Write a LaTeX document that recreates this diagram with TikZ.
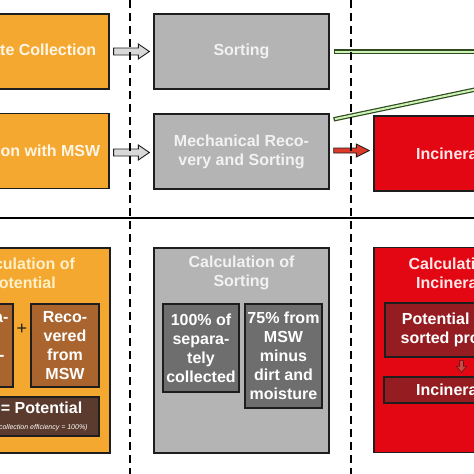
\documentclass[tikz,border=0pt]{standalone}
\usepackage{fontspec}
\setmainfont{Liberation Sans}
\usetikzlibrary{calc}
\definecolor{orng}{HTML}{F5A830}
\definecolor{otxt}{HTML}{FFF6E6}
\definecolor{otitle}{HTML}{FFF0C8}
\definecolor{brwn}{HTML}{AA652F}
\definecolor{dbrwn}{HTML}{5B3B2D}
\definecolor{gry}{HTML}{B4B4B4}
\definecolor{gtxt}{HTML}{F2F2F2}
\definecolor{dgry}{HTML}{6E6E6E}
\definecolor{rd}{HTML}{E30613}
\definecolor{rtxt}{HTML}{FFE8E8}
\definecolor{drd}{HTML}{951C20}
\definecolor{bdr}{HTML}{1E1E1E}
\definecolor{dkgreen}{HTML}{2E4A1E}
\definecolor{ltgreen}{HTML}{CDF2B6}
\definecolor{arrgray}{HTML}{D9D9D9}
\definecolor{arrred}{HTML}{DD3A2A}
\definecolor{arrdred}{HTML}{C84A40}
\newcommand\fatarrowh[6]{\path[#1] let \p1=(#2), \p2=(#3) in
  (\x1,{\y1+#4}) -- ({\x2-#6},{\y1+#4}) -- ({\x2-#6},{\y1+#5}) -- (\x2,\y1)
  -- ({\x2-#6},{\y1-#5}) -- ({\x2-#6},{\y1-#4}) -- (\x1,{\y1-#4}) -- cycle;}
\newcommand\fatarrowv[6]{\path[#1] let \p1=(#2), \p2=(#3) in
  ({\x1+#4},\y1) -- ({\x1+#4},{\y2+#6}) -- ({\x1+#5},{\y2+#6}) -- (\x1,\y2)
  -- ({\x1-#5},{\y2+#6}) -- ({\x1-#4},{\y2+#6}) -- ({\x1-#4},\y1) -- cycle;}
\begin{document}
\begin{tikzpicture}[x=1pt,y=-1pt,
  bx/.style={draw=bdr, line width=1.3pt, inner sep=0pt, align=center,
    font=\fontsize{16}{19}\selectfont\bfseries},
  topbox/.style={bx, minimum width=175pt, minimum height=75pt},
  bigbox/.style={bx, minimum width=175pt, minimum height=205pt},
  ttl/.style={inner sep=0pt, align=center, font=\fontsize{16}{19}\selectfont\bfseries},
  dline/.style={draw=black, line width=1.8pt, dash pattern=on 8pt off 5pt},
  hollowgray/.style={fill=arrgray, draw=bdr, line width=0.9pt},
  hollowred/.style={fill=arrred, draw=bdr, line width=0.8pt},
  smallred/.style={fill=arrdred, draw=drd!70!black, line width=0.6pt},
  grn/.style={draw=dkgreen, line width=4.4pt,
    postaction={draw=ltgreen, line width=2pt, shorten <=1.3pt}}]
\useasboundingbox (0,0) rectangle (474,474);
\clip (0,0) rectangle (474,474);
\fill[white] (0,0) rectangle (474,474);

% top row
\node[topbox, fill=orng, text=otxt] (o1) at (21.5,51.5) {Separate Collection};
\node[topbox, fill=orng, text=otxt] (o2) at (21.5,151) {Collection with MSW};
\node[topbox, fill=gry, text=gtxt] (g1) at (241.5,51.5) {Sorting};
\node[topbox, fill=gry, text=gtxt] (g2) at (241.5,151.5) {Mechanical Reco-\\very and Sorting};
\node[topbox, fill=rd, text=rtxt] (r1) at (461.5,153.5) {Incineration};

\coordinate (rec1) at (560,51.5);
\coordinate (rec2) at (560,71.7);

\fatarrowh{hollowgray}{$(o1.east)+(4,0)$}{$(g1.west)+(-4,0)$}{3.5pt}{7.5pt}{11pt}
\fatarrowh{hollowgray}{$(o2.east)+(4,1.5)$}{$(g2.west)+(-4,1.5)$}{3.5pt}{7.5pt}{11pt}
\fatarrowh{hollowred}{$(g2.east)+(4,-1)$}{$(r1.west)+(-4,-3)$}{2.5pt}{6.5pt}{13pt}

\draw[grn] ($(g1.east)+(4,0)$) -- (rec1);
\draw[grn] ($(g2.north east)+(4,6)$) -- (rec2);

% bottom row
\node[bigbox, fill=orng, minimum width=176pt] (O) at (22,350.5) {};
\node[ttl, text=otitle] (Ot) at (22,273) {Calculation of\\Potential};
\node[bx, fill=brwn, text=white, minimum width=68pt, minimum height=83pt] (Os) at (-21,345.5) {Separa-\\tely\\collec-\\ted};
\node[bx, fill=brwn, text=white, minimum width=68pt, minimum height=83pt] (Or) at (65,345.5) {Reco-\\vered\\from\\MSW};
\node[inner sep=0pt, font=\fontsize{18}{18}\selectfont, text=bdr] (plus) at (22,329) {+};
\node[bx, fill=dbrwn, text=white, minimum width=154pt, minimum height=39pt] (Op) at (22,416.5)
  {Sum = Potential\\[-3pt]{\fontsize{7}{8}\selectfont\mdseries\itshape (assumption: collection efficiency = 100\%)}};

\node[bigbox, fill=gry] (G) at (241.5,350.5) {};
\node[ttl, text=gtxt] (Gt) at (241.5,273) {Calculation of\\Sorting};
\node[bx, fill=dgry, text=white, minimum width=76pt, minimum height=88pt] (Ga) at (201,348) {100\% of\\separa-\\tely\\collected};
\node[bx, fill=dgry, text=white, minimum width=77pt, minimum height=104pt] (Gb) at (283.5,356) {75\% from\\MSW\\minus\\dirt and\\moisture};

\node[bigbox, fill=rd] (R) at (461.5,350) {};
\node[ttl, text=rtxt] (Rt) at (461.5,273) {Calculation of\\Incineration};
\node[bx, fill=drd, text=white, minimum width=153pt, minimum height=54pt] (Rp) at (461.5,330) {Potential minus\\sorted products};
\node[bx, fill=drd, text=white, minimum width=155pt, minimum height=26pt] (Ri) at (461.5,390) {Incineration};
\fatarrowv{smallred}{$(Rp.south)+(0,3)$}{$(Ri.north)+(0,-4)$}{2pt}{5pt}{6pt}

% separators
\coordinate (d1t) at (130,0); \coordinate (d1b) at (130,474);
\coordinate (d2t) at (351,0); \coordinate (d2b) at (351,474);
\coordinate (hl) at (0,218); \coordinate (hr) at (474,218);
\draw[black, line width=1.5pt] (hl) -- (hr);
\draw[dline] (d1t) -- (d1b);
\draw[dline] (d2t) -- (d2b);
\end{tikzpicture}
\end{document}
